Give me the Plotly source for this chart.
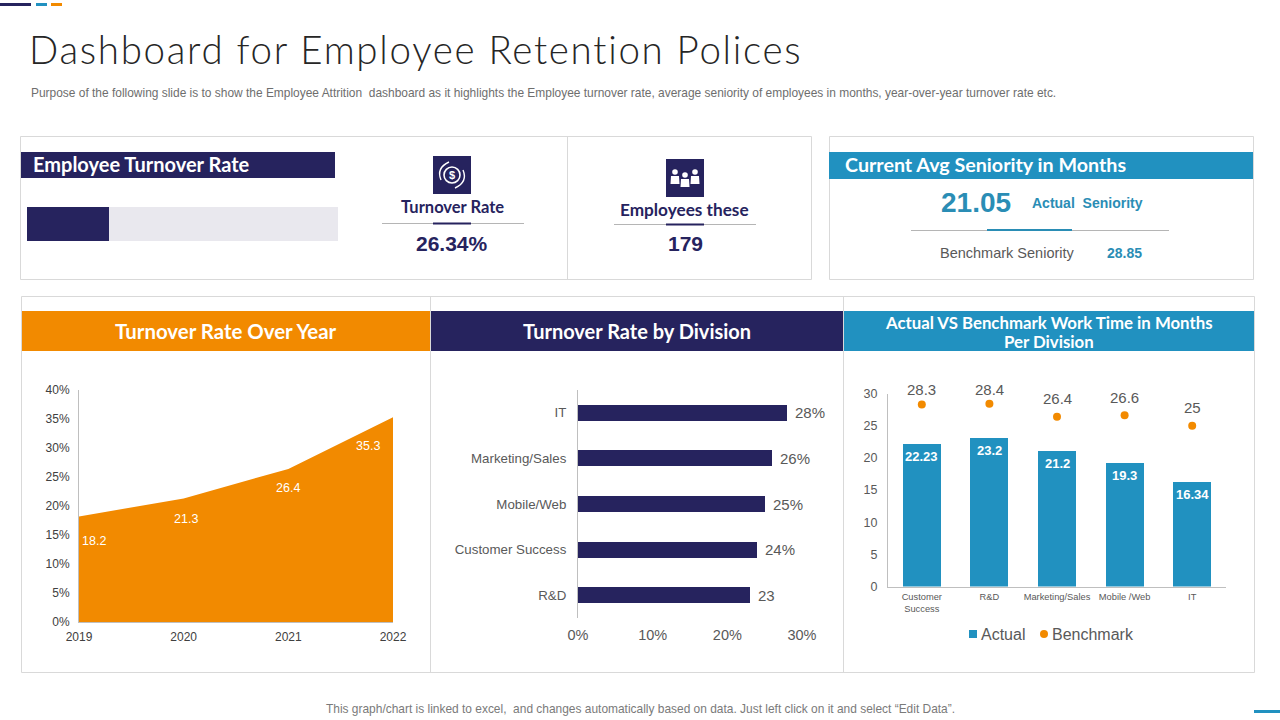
import plotly.graph_objects as go

NAVY = "#26235e"; BLUE = "#2191c0"; ORANGE = "#f28a00"; GREY = "#d9d9d9"
TXT = "#404040"; SANS = "Liberation Sans"; HEAD = "Lato"

# data
years = [2019, 2020, 2021, 2022]
rate_year = [18.2, 21.3, 26.4, 35.3]
year_pct_ticks = [0, 5, 10, 15, 20, 25, 30, 35, 40]
divisions = ["R&D", "Customer Success", "Mobile/Web", "Marketing/Sales", "IT"]
div_rate = [23, 24, 25, 26, 28]
div_labels = ["23", "24%", "25%", "26%", "28%"]
div_ticks = [0, 10, 20, 30]
work_cats = ["Customer<br>Success", "R&D", "Marketing/Sales", "Mobile /Web", "IT"]
actual = [22.23, 23.2, 21.2, 19.3, 16.34]
benchmark = [28.3, 28.4, 26.4, 26.6, 25]
turnover = 26.34
turnover_rest = 100 - turnover

W, H = 1280, 720
def X(v): return v / W
def Y(v): return 1 - v / H

fig = go.Figure()
shapes = []; ann = []

def rect(x0, y0, x1, y1, fill=None, line=None, w=1, layer="below"):
    shapes.append(dict(type="rect", xref="paper", yref="paper", x0=X(x0), x1=X(x1), y0=Y(y0), y1=Y(y1),
                       fillcolor=fill or "rgba(0,0,0,0)", line=dict(color=line or "rgba(0,0,0,0)", width=w if line else 0), layer=layer))
def hline(x0, x1, y, color, w=1):
    shapes.append(dict(type="line", xref="paper", yref="paper", x0=X(x0), x1=X(x1), y0=Y(y), y1=Y(y), line=dict(color=color, width=w)))
def vline(x, y0, y1, color, w=1):
    shapes.append(dict(type="line", xref="paper", yref="paper", x0=X(x), x1=X(x), y0=Y(y0), y1=Y(y1), line=dict(color=color, width=w)))
def text(x, y, s, size, color=TXT, fam=SANS, anchor="center", weight=None):
    f = dict(size=size, color=color, family=fam)
    if weight: f["weight"] = weight
    ann.append(dict(xref="paper", yref="paper", x=X(x), y=Y(y), text=s, showarrow=False, xanchor=anchor, yanchor="middle",
                    font=f, align="center"))

# top decoration
rect(0, 3, 31, 6, NAVY); rect(36, 3, 47, 6, BLUE); rect(51, 3, 62, 6, ORANGE); rect(1254, 710, 1280, 713, BLUE)

# title
text(27, 49, '<span style="letter-spacing:1.7px">Dashboard for Employee Retention Polices</span>', 38.5, "#262626", HEAD, "left", 300)
text(28.5, 93, "Purpose of the following slide is to show the Employee Attrition  dashboard as it highlights the Employee turnover rate, average seniority of employees in months, year-over-year turnover rate etc.", 11.95, "#6e6e6e", SANS, "left")
text(640, 709, "This graph/chart is linked to excel,  and changes automatically based on data. Just left click on it and select “Edit Data”.", 11.95, "#7a7a7a")

# panels
rect(20.5, 136.5, 811.5, 279.5, None, GREY); vline(567.5, 136.5, 279.5, GREY)
rect(829.5, 136.5, 1253.5, 279.5, None, GREY)
rect(21.5, 296.5, 1254.5, 672.5, None, GREY); vline(430.5, 296.5, 672.5, GREY); vline(843.5, 296.5, 672.5, GREY)

# headers
rect(21, 152, 335, 178, NAVY); text(31, 164, "<b>Employee Turnover Rate</b>", 20, "white", HEAD, "left")
rect(829, 152, 1253, 179, BLUE); text(843, 165, "<b>Current Avg Seniority in Months</b>", 19.7, "white", HEAD, "left")
rect(22, 311, 430, 351, ORANGE); text(226, 331, "<b>Turnover Rate Over Year</b>", 20.4, "white", HEAD)
rect(431, 311, 843, 351, NAVY); text(637, 331, "<b>Turnover Rate by Division</b>", 20, "white", HEAD)
rect(844, 311, 1254, 351, BLUE)
text(1049, 322, "<b>Actual VS Benchmark Work Time in Months</b>", 16.8, "white", HEAD)
text(1049, 341, "<b>Per Division</b>", 16.8, "white", HEAD)

# KPI: turnover
rect(433, 156, 471, 194, NAVY)
shapes.append(dict(type="circle", xref="paper", yref="paper", x0=X(444), x1=X(460), y0=Y(183), y1=Y(167), line=dict(color="white", width=1.6)))
shapes.append(dict(type="path", xref="paper", yref="paper", line=dict(color="white", width=1.4),
    path=f"M {X(441)} {Y(180)} Q {X(436)} {Y(168)} {X(449)} {Y(162)} M {X(463)} {Y(170)} Q {X(468)} {Y(182)} {X(455)} {Y(188)}"))
text(452, 175, "<b>$</b>", 11, "white")
text(452, 207.5, "<b>Turnover Rate</b>", 16.5, NAVY, HEAD)
hline(382, 524, 223.5, "#b5b5b5"); hline(433, 471, 223.5, NAVY, 2)
text(452, 243, "<b>26.34%</b>", 21, NAVY)

# KPI: employees
rect(666, 159, 704, 197, NAVY)
for cx, cy in [(675, 172), (695, 172), (685, 175)]:
    shapes.append(dict(type="circle", xref="paper", yref="paper", x0=X(cx-2.8), x1=X(cx+2.8), y0=Y(cy+2.8), y1=Y(cy-2.8), fillcolor="white", line=dict(width=0)))
    shapes.append(dict(type="path", xref="paper", yref="paper", fillcolor="white", line=dict(width=0),
        path=f"M {X(cx-4)} {Y(cy+4)} L {X(cx+4)} {Y(cy+4)} L {X(cx+4.5)} {Y(cy+12)} L {X(cx-4.5)} {Y(cy+12)} Z"))
text(684.5, 209.5, "<b>Employees these</b>", 17.2, NAVY, HEAD)
hline(614, 756, 224.5, "#b5b5b5"); hline(666, 704, 224.5, NAVY, 2)
text(685, 243, "<b>179</b>", 21, NAVY)

# KPI: seniority
text(976, 202, "<b>21.05</b>", 28, "#2a8db5")
text(1087, 203, "<b>Actual  Seniority</b>", 14, "#2a8db5")
hline(911, 1169, 230.5, "#b5b5b5"); hline(987, 1072, 230, "#2a8db5", 2)
text(1007, 253, "Benchmark Seniority", 14.5, "#595959")
text(1124, 253, "<b>28.85</b>", 14, "#2a8db5")

# progress bar (x4/y4)
fig.add_trace(go.Bar(x=[turnover], y=[""], orientation="h", marker=dict(color=NAVY, line_width=0), width=1, xaxis="x4", yaxis="y4", showlegend=False, hoverinfo="skip"))
fig.add_trace(go.Bar(x=[turnover_rest], y=[""], orientation="h", marker=dict(color="#e9e8ee", line_width=0), width=1, xaxis="x4", yaxis="y4", showlegend=False, hoverinfo="skip"))

# area chart
fig.add_trace(go.Scatter(x=years, y=rate_year, mode="lines", fill="tozeroy", fillcolor=ORANGE, line=dict(color=ORANGE, width=0), xaxis="x", yaxis="y", showlegend=False))
shifts = [(15, -25), (2, -21), (0, -19), (-25, -29)]
for xv, yv, (dx, dy) in zip(years, rate_year, shifts):
    ann.append(dict(xref="x", yref="y", x=xv, y=yv, text=str(yv), showarrow=False, xshift=dx, yshift=dy, font=dict(size=12.5, color="white", family=SANS)))

# bar chart
fig.add_trace(go.Bar(x=div_rate, y=divisions, orientation="h", marker=dict(color=NAVY, line_width=0), width=0.35,
                     xaxis="x2", yaxis="y2", showlegend=False))
for v, c, lab in zip(div_rate, divisions, div_labels):
    ann.append(dict(xref="x2", yref="y2", x=v, y=c, text=lab, showarrow=False, xanchor="left", xshift=6, font=dict(size=15, color="#595959", family=SANS)))

# combo chart
fig.add_trace(go.Bar(x=work_cats, y=actual, name="Actual", marker=dict(color=BLUE, line_width=0), width=0.56,
                     xaxis="x3", yaxis="y3", showlegend=False))
fig.add_trace(go.Scatter(x=work_cats, y=benchmark, name="Benchmark", mode="markers", marker=dict(color=ORANGE, size=8),
                         cliponaxis=False, xaxis="x3", yaxis="y3", showlegend=False))
for c, v in zip(work_cats, actual):
    ann.append(dict(xref="x3", yref="y3", x=c, y=v, text=f"<b>{v}</b>", showarrow=False, yshift=-13, font=dict(size=13, color="white", family=SANS)))
bench_shift = [15, 14, 18, 18, 18]
for c, v, s in zip(work_cats, benchmark, bench_shift):
    ann.append(dict(xref="x3", yref="y3", x=c, y=v, text=str(v), showarrow=False, yshift=s, font=dict(size=15, color="#595959", family=SANS)))
# legend key
rect(969, 630, 977, 638, BLUE)
text(979, 634, "Actual", 16, "#595959", SANS, "left")
shapes.append(dict(type="circle", xref="paper", yref="paper", x0=X(1040), x1=X(1048), y0=Y(638), y1=Y(630), fillcolor=ORANGE, line=dict(width=0)))
text(1050, 634, "Benchmark", 16, "#595959", SANS, "left")

def dom(a, b, total): return [a / total, b / total]
def ydom(top, bottom): return [1 - bottom / H, 1 - top / H]
AX = "#bfbfbf"
fig.update_layout(
    width=W, height=H, margin=dict(l=0, r=0, t=0, b=0, autoexpand=False), paper_bgcolor="white", plot_bgcolor="white",
    barmode="stack", shapes=shapes, annotations=ann, font=dict(family=SANS, color=TXT),
    bargap=0, showlegend=False,
    xaxis=dict(domain=dom(79, 393, W), range=[2019, 2022], tickvals=years, ticks="", showgrid=False, showline=True, linecolor=AX, zeroline=False,
               tickfont=dict(size=12, color=TXT), ticklabelstandoff=4),
    yaxis=dict(domain=ydom(390, 622), range=[0, 40], tickvals=year_pct_ticks, ticktext=[f"{v}%" for v in year_pct_ticks], showgrid=False, showline=True, linecolor=AX, zeroline=False,
               tickfont=dict(size=12, color=TXT), ticklabelstandoff=6),
    xaxis2=dict(domain=dom(578, 802, W), range=[0, 30], tickvals=div_ticks, ticktext=[f"{v}%" for v in div_ticks], showgrid=False, showline=False, zeroline=False,
                tickfont=dict(size=14.5, color="#595959"), anchor="y2", ticklabelstandoff=6),
    yaxis2=dict(domain=ydom(390, 618), type="category", showgrid=False, showline=True, linecolor=AX, zeroline=False, ticks="",
                tickfont=dict(size=13.3, color="#595959"), anchor="x2", ticklabelstandoff=8),
    xaxis3=dict(domain=dom(888, 1226, W), type="category", showgrid=False, showline=True, linecolor=AX, ticks="", zeroline=False,
                tickfont=dict(size=9.3, color="#595959"), anchor="y3", ticklabelstandoff=1),
    yaxis3=dict(domain=ydom(393.5, 586.5), range=[0, 30], tickvals=list(range(0, 31, 5)), showgrid=False, showline=True, linecolor=AX, zeroline=False,
                tickfont=dict(size=12.5, color="#595959"), anchor="x3", ticklabelstandoff=7),
    xaxis4=dict(domain=dom(27, 338, W), range=[0, 100], visible=False, anchor="y4"),
    yaxis4=dict(domain=ydom(207, 241), visible=False, anchor="x4"),
)
fig.write_html("out.html", config=dict(displayModeBar=False), post_script="document.body.style.margin='0';")
